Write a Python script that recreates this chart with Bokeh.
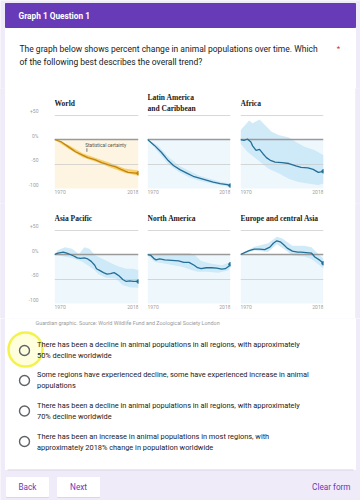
from bokeh.plotting import figure
from bokeh.layouts import column, row
from bokeh.models import Range1d, FixedTicker, BoxAnnotation, LinearAxis
from bokeh.core.properties import value
from bokeh.embed import file_html
from bokeh.resources import INLINE

# ---------------- data ----------------
header_text = "Graph 1 Question 1"
question_lines = ["The graph below shows percent change in animal populations over time.  Which",
                  "of the following best describes the overall trend?"]
caption = "Guardian graphic. Source: World Wildlife Fund and Zoological Society London"
option_lines = [
    ["There has been a decline in animal populations in all regions, with approximately",
     "50% decline worldwide"],
    ["Some regions have experienced decline, some have experienced increase in animal",
     "populations"],
    ["There has been a decline in animal populations in all regions, with approximately",
     "70% decline worldwide"],
    ["There has been an increase in animal populations in most regions, with",
     "approximately 2018% change in population worldwide"],
]
button_labels = ["Back", "Next"]
clear_label = "Clear form"

y_ticks = [50, 0, -50, -100]
y_tick_labels = {50: "+50", 0: "0%", -50: "-50", -100: "-100"}
x_tick_years = [1970, 2018]
x_tick_labels = ["1970", "2018"]
grid_lines = [50, -50]
zero_line = [0]

world_title = ["World"]
world_years = [1970, 1974, 1978, 1982, 1986, 1989, 1993, 1997, 2001, 2005, 2008, 2012, 2015, 2018]
world_vals = [0, -5, -15, -25, -32, -37, -41, -47, -52, -56, -61, -67, -68, -69]
world_up_years = [1970, 1978, 1986, 1994, 2002, 2010, 2018]
world_upper = [0, -11, -28, -38, -48, -59, -63]
world_lo_years = [1970, 1978, 1986, 1994, 2002, 2010, 2018]
world_lower = [0, -19, -36, -46, -57, -68, -74]

la_title = ["Latin America", "and Caribbean"]
la_years = [1970, 1974, 1978, 1982, 1985, 1989, 1993, 1997, 2001, 2005, 2008, 2012, 2016, 2018]
la_vals = [0, -12, -26, -43, -53, -62, -69, -76, -80, -84, -87, -90, -92, -94]
la_up_years = [1970, 1976, 1982, 1988, 1994, 2000, 2006, 2012, 2018]
la_upper = [0, -12, -35, -53, -64, -74, -80, -86, -90]
la_lo_years = [1970, 1976, 1982, 1988, 1994, 2000, 2006, 2012, 2018]
la_lower = [0, -25, -50, -66, -77, -84, -89, -93, -97]

af_title = ["Africa"]
af_years = [1970, 1972, 1974, 1976, 1977, 1979, 1981, 1983, 1985, 1987, 1990, 1994, 1998, 2002, 2005, 2009, 2012, 2015, 2018]
af_vals = [0, -2, 1, -5, -13, -22, -20, -29, -37, -42, -46, -47, -49, -54, -57, -58, -61, -67, -65]
af_up_years = [1970, 1975, 1977, 1981, 1984, 1988, 1992, 1998, 2002, 2007, 2013, 2018]
af_upper = [19, 39, 33, 41, 30, 16, 9, 4, -5, -15, -22, -32]
af_lo_years = [1970, 1974, 1980, 1986, 1992, 1998, 2003, 2009, 2015, 2018]
af_lower = [-8, -25, -42, -59, -69, -80, -86, -90, -93, -90]

ap_title = ["Asia Pacific"]
ap_years = [1970, 1972, 1975, 1977, 1979, 1981, 1983, 1985, 1987, 1989, 1991, 1993, 1994, 1996, 1998, 2000, 2002, 2004, 2005, 2007, 2009, 2011, 2013, 2015, 2017, 2018]
ap_vals = [0, 3, 5, 3, 0, -3, -7, -8, -7, -9, -14, -22, -29, -33, -37, -40, -39, -37, -39, -44, -51, -55, -54, -55, -55, -55]
ap_up_years = [1970, 1972, 1976, 1980, 1984, 1987, 1990, 1993, 1997, 2003, 2007, 2011, 2015, 2018]
ap_upper = [1, 9, 15, 12, 1, 15, 12, -1, -8, -19, -25, -29, -29, -32]
ap_lo_years = [1970, 1974, 1980, 1986, 1992, 1995, 1999, 2005, 2009, 2013, 2018]
ap_lower = [-1, -3, -7, -15, -29, -40, -47, -49, -62, -67, -68]

na_title = ["North America"]
na_years = [1970, 1972, 1974, 1975, 1977, 1980, 1984, 1988, 1991, 1994, 1997, 1999, 2001, 2004, 2007, 2010, 2013, 2015, 2017, 2018]
na_vals = [0, -2, -9, -11, -9, -11, -12, -13, -16, -16, -22, -27, -29, -27, -27, -28, -30, -29, -24, -20]
na_up_years = [1970, 1978, 1994, 1997, 2001, 2007, 2013, 2017, 2018]
na_upper = [1, 3, 3, 0, -13, -19, -22, -17, -15]
na_lo_years = [1970, 1974, 1982, 1990, 1996, 1999, 2005, 2011, 2017, 2018]
na_lower = [-1, -15, -20, -25, -32, -35, -35, -37, -32, -25]

eu_title = ["Europe and central Asia"]
eu_years = [1970, 1973, 1975, 1978, 1981, 1984, 1987, 1989, 1991, 1993, 1995, 1997, 2000, 2003, 2005, 2008, 2011, 2013, 2016, 2018]
eu_vals = [0, 5, 8, 11, 11, 10, 15, 23, 28, 26, 20, 13, 7, 5, 5, 4, 3, -5, -12, -18]
eu_up_years = [1970, 1978, 1986, 1991, 1994, 2000, 2007, 2011, 2015, 2018]
eu_upper = [1, 16, 23, 36, 33, 18, 18, 15, 1, -9]
eu_lo_years = [1970, 1978, 1986, 1991, 1996, 2000, 2007, 2011, 2015, 2018]
eu_lower = [-1, 8, 5, 21, 9, -2, -4, -9, -20, -29]

# ---------------- styles ----------------
BLUE = dict(line="#236f96", band="#c6e5f6", tint="#eef7fc")
GOLD = dict(line="#c0850f", band="#f6c54c", tint="#fdf5e2")
PURPLE = "#673ab7"
LAVENDER = "#f0ebf8"
TEXT = "#202124"
SANS = value("Roboto")
SERIF = value("Liberation Serif")
Y0, Y1 = -130.6, 104.1


def base_fig(width, height, xr, yr, bl=0, br=0, bg="white"):
    p = figure(width=width, height=height, x_range=xr, y_range=yr, title=None,
               output_backend="svg", toolbar_location=None,
               x_axis_location=None, y_axis_location=None,
               min_border_top=0, min_border_bottom=0,
               min_border_left=bl, min_border_right=br)
    p.outline_line_color = None
    p.grid.visible = False
    p.background_fill_color = bg
    p.border_fill_color = bg
    return p


def filler():
    p = base_fig(5, 115, Range1d(0, 1), Range1d(0, 1), bg=LAVENDER)
    p.quad(left=[0], right=[1], top=[1], bottom=[0], color=LAVENDER)
    return p


def chart(width, bl, br, left_axis, title, years, vals, up_years, upper, lo_years, lower, theme):
    p = base_fig(width, 115, Range1d(1970, 2018), Range1d(Y0, Y1), bl=bl, br=br)
    p.add_layout(BoxAnnotation(top=0, bottom=-100, fill_color=theme["tint"], fill_alpha=1,
                               line_color=None, level="underlay"))
    p.patch(up_years + lo_years[::-1], upper + lower[::-1], fill_color=theme["band"],
            fill_alpha=0.8, line_color=None)
    p.hspan(y=grid_lines, line_color="#c8c8c8", line_alpha=0.7, line_width=1)
    p.hspan(y=zero_line, line_color="#9a9a9a", line_width=1.3)
    p.line(years, vals, line_color=theme["line"], line_width=1.3)
    p.scatter(years[-1:], vals[-1:], size=3.5, color=theme["line"])
    tys = [73.5] if len(title) == 1 else [85.7, 63.3]
    p.text([1970] * len(title), tys, text=title, text_font=SERIF, text_font_style="bold",
           text_font_size="7.5px", text_color="#1a1a1a", text_baseline="middle", text_align="left")
    p.text(x_tick_years[:1], [-108], text=x_tick_labels[:1], text_font=SANS, text_font_size="5px",
           text_color="#a0a0a0", text_baseline="middle", text_align="left")
    p.text(x_tick_years[1:], [-108], text=x_tick_labels[1:], text_font=SANS, text_font_size="5px",
           text_color="#a0a0a0", text_baseline="middle", text_align="right")
    if left_axis:
        p.extra_y_ranges = {"lab": Range1d(Y0 - 8, Y1 - 8)}
        ax = LinearAxis(y_range_name="lab", ticker=FixedTicker(ticks=y_ticks),
                        major_label_overrides=y_tick_labels)
        ax.axis_line_color = None
        ax.major_tick_line_color = None
        ax.minor_tick_line_color = None
        ax.major_label_standoff = 10
        ax.major_label_text_font = "Roboto"
        ax.major_label_text_font_size = "5px"
        ax.major_label_text_color = "#a0a0a0"
        p.add_layout(ax, "left")
    return p


# ---------------- top: header + question ----------------
top = base_fig(360, 88, Range1d(0, 360), Range1d(88, 0), bg=LAVENDER)
top.quad(left=[5], right=[355], top=[3], bottom=[88], color="white")
top.quad(left=[5], right=[355], top=[3], bottom=[27], color=PURPLE)
top.text([18], [15.5], text=[header_text], text_font=SANS, text_font_style="bold",
         text_font_size="8.3px", text_color="white", text_baseline="middle")
top.text([19, 19], [48, 61], text=question_lines, text_font=SANS, text_font_size="8.5px",
         text_color=TEXT, text_baseline="middle")
top.text([338], [48], text=["*"], text_font=SANS, text_font_size="8px", text_color="#d93025",
         text_baseline="middle", text_align="center")

# ---------------- chart grid ----------------
world = chart(137, 49, 4, True, world_title, world_years, world_vals, world_up_years, world_upper,
              world_lo_years, world_lower, GOLD)
world.text([1987.5], [-11.6], text=["Statistical certainty"], text_font=SANS, text_font_size="4.8px",
           text_color="#555555", text_baseline="middle", text_align="left")
world.segment([1988.5], [-18], [1988.5], [-25], line_color="#555555", line_width=0.8)
la = chart(94, 5, 6, False, la_title, la_years, la_vals, la_up_years, la_upper, la_lo_years, la_lower, BLUE)
af = chart(119, 4, 32, False, af_title, af_years, af_vals, af_up_years, af_upper, af_lo_years, af_lower, BLUE)
ap = chart(137, 49, 4, True, ap_title, ap_years, ap_vals, ap_up_years, ap_upper, ap_lo_years, ap_lower, BLUE)
na = chart(94, 5, 6, False, na_title, na_years, na_vals, na_up_years, na_upper, na_lo_years, na_lower, BLUE)
eu = chart(119, 4, 32, False, eu_title, eu_years, eu_vals, eu_up_years, eu_upper, eu_lo_years, eu_lower, BLUE)

# ---------------- bottom: caption, options, buttons ----------------
bot = base_fig(360, 182, Range1d(0, 360), Range1d(500, 318), bg=LAVENDER)
bot.quad(left=[5], right=[355], top=[318], bottom=[469], color="white")
bot.segment([7], [469.5], [353], [469.5], line_color="#d9d4e2", line_width=1)
bot.text([35], [322.3], text=[caption], text_font=SANS, text_font_size="5.4px",
         text_color="#9a9a9a", text_baseline="middle")
radio_y = [350, 380, 410.5, 441]
line1_y = [344, 374, 405, 435.7]
line2_y = [355, 385.3, 415.7, 446.7]
bot.circle([25], [349], radius=17, fill_color="#ffff40", fill_alpha=0.18,
           line_color="#f0f020", line_width=2.5, line_alpha=0.8)
bot.scatter([24] * 4, radio_y, size=10, marker="circle", fill_color=None,
            line_color="#5f6368", line_width=1.4)
bot.text([36.5] * 4, line1_y, text=[o[0] for o in option_lines], text_font=SANS,
         text_font_size="7.4px", text_color=TEXT, text_baseline="middle")
bot.text([36.5] * 4, line2_y, text=[o[1] for o in option_lines], text_font=SANS,
         text_font_size="7.4px", text_color=TEXT, text_baseline="middle")
# buttons
bot.quad(left=[6, 57], right=[48, 99], top=[477.5, 477.5], bottom=[497, 497], color="#dcd6e6")
bot.quad(left=[6, 57], right=[48, 99], top=[477, 477], bottom=[496, 496], color="white")
bot.text([27, 78], [486.5, 486.5], text=button_labels, text_font=SANS, text_font_size="8.2px",
         text_color=PURPLE, text_baseline="middle", text_align="center")
bot.text([350], [486.5], text=[clear_label], text_font=SANS, text_font_size="8.2px",
         text_color=PURPLE, text_baseline="middle", text_align="right")

layout = column(top,
                row(filler(), world, la, af, filler()),
                row(filler(), ap, na, eu, filler()),
                bot)
open("out.html", "w").write(file_html(layout, INLINE))
